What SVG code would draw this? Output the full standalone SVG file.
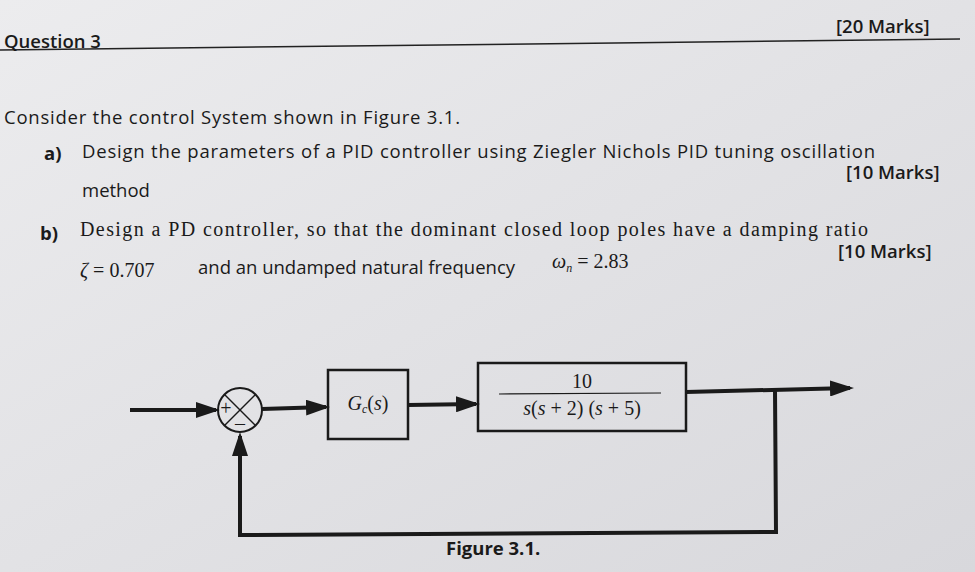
<svg xmlns="http://www.w3.org/2000/svg" width="975" height="572" viewBox="0 0 975 572">
<style>
.t{font-family:"Open Sans","Liberation Sans",sans-serif;font-size:18.5px;fill:#1a1a1a}
.m{font-family:"Liberation Serif",serif;font-size:20px;fill:#1a1a1a}
.ln{stroke:#1a1a1a;stroke-width:4;fill:none}
.bx{stroke:#1a1a1a;stroke-width:2.5;fill:none}
</style>
<defs><marker id="a" markerWidth="6" markerHeight="4" refX="5" refY="2" orient="auto" markerUnits="strokeWidth"><path d="M0,0 L6,2 L0,4 z" fill="#1a1a1a"/></marker>
<linearGradient id="bg" x1="0" y1="0" x2="1" y2="1"><stop offset="0" stop-color="#ececee"/><stop offset="1" stop-color="#d8d8dc"/></linearGradient></defs>
<rect width="975" height="572" fill="url(#bg)"/>
<line x1="0" y1="50" x2="960" y2="39" stroke="#222" stroke-width="1.5"/>
<text class="t" x="4" y="48" font-weight="600" font-size="19">Question  3</text>
<text class="t" x="836" y="33" font-weight="600" font-size="19">[20 Marks]</text>
<text class="t" x="4" y="124" textLength="456">Consider the control System shown in Figure 3.1.</text>
<text class="t" x="44" y="160" font-weight="bold">a)</text>
<text class="t" x="82" y="158" textLength="793">Design the parameters of a PID controller using Ziegler Nichols PID tuning oscillation</text>
<text class="t" x="846" y="179" font-weight="600">[10 Marks]</text>
<text class="t" x="82" y="197">method</text>
<text class="t" x="40" y="240" font-weight="bold">b)</text>
<text class="m" x="80" y="236" textLength="788">Design a PD controller, so that the dominant closed loop poles have a damping ratio</text>
<text class="t" x="838" y="258" font-weight="600">[10 Marks]</text>
<text class="m" x="80" y="277"><tspan font-style="italic">ζ</tspan> = 0.707</text>
<text class="t" x="198" y="274">and an undamped natural frequency</text>
<text class="m" x="552" y="268"><tspan font-style="italic">ω</tspan><tspan font-style="italic" font-size="12" dy="4">n</tspan><tspan dy="-4"> = 2.83</tspan></text>
<g id="connectors">
<line class="ln" x1="130" y1="410" x2="216" y2="410" marker-end="url(#a)"/>
<line class="ln" x1="262" y1="409" x2="326" y2="407" marker-end="url(#a)"/>
<line class="ln" x1="408" y1="405" x2="476" y2="404" marker-end="url(#a)"/>
<line class="ln" x1="686" y1="392" x2="850" y2="388" marker-end="url(#a)"/>
<polyline class="ln" points="775,390 776,532 240,535 240,436" marker-end="url(#a)"/>
</g>
<g id="sum">
<circle cx="240" cy="410" r="22" fill="none" stroke="#1a1a1a" stroke-width="2"/>
<line x1="224.5" y1="394.5" x2="255.5" y2="425.5" stroke="#1a1a1a" stroke-width="1.5"/>
<line x1="255.5" y1="394.5" x2="224.5" y2="425.5" stroke="#1a1a1a" stroke-width="1.5"/>
<text class="m" x="226" y="415" font-size="14" text-anchor="middle">+</text>
<text class="m" x="240" y="430" font-size="14" text-anchor="middle">–</text>
</g>
<g id="gc">
<rect class="bx" x="328" y="370" width="80" height="69"/>
<text class="m" x="368" y="410" text-anchor="middle" font-size="18"><tspan font-style="italic">G</tspan><tspan font-style="italic" font-size="12" dy="3">c</tspan><tspan dy="-3">(</tspan><tspan font-style="italic">s</tspan>)</text>
</g>
<g id="plant">
<rect class="bx" x="478" y="363" width="208" height="68"/>
<text class="m" x="582" y="388" text-anchor="middle" font-size="18">10</text>
<line x1="499" y1="394" x2="661" y2="393" stroke="#1a1a1a" stroke-width="1.2"/>
<text class="m" x="582" y="415" text-anchor="middle" font-size="18"><tspan font-style="italic">s</tspan>(<tspan font-style="italic">s</tspan> + 2) (<tspan font-style="italic">s</tspan> + 5)</text>
</g>
<text class="t" x="446" y="555" font-weight="bold">Figure 3.1.</text>
</svg>
